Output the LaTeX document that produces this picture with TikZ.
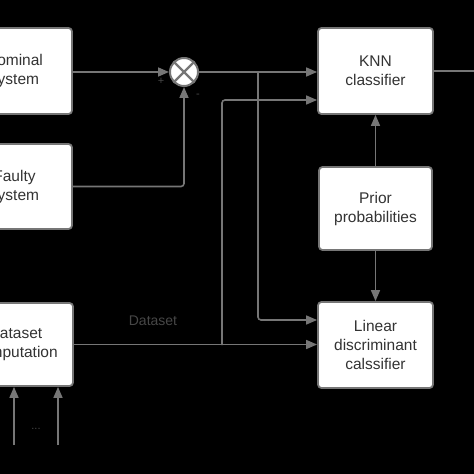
\documentclass[tikz,border=0pt]{standalone}
\usepackage{fontspec}
\setmainfont{Liberation Sans}
\usetikzlibrary{arrows.meta}
\definecolor{linegray}{HTML}{767676}
\definecolor{txtgray}{HTML}{333333}
\definecolor{lblgray}{HTML}{474747}
\begin{document}
\begin{tikzpicture}[x=1bp,y=-1bp,
  box/.style={draw=linegray, line width=1.8bp, fill=white, rounded corners=3.5bp,
    minimum width=115bp, minimum height=86bp, inner sep=0pt, align=center,
    text=txtgray, font=\fontsize{15.5bp}{19bp}\selectfont},
  conn/.style={draw=linegray, line width=1.6bp},
  arr/.style={conn, -{Triangle[length=11bp,width=9bp]}},
  sign/.style={text=lblgray, font=\fontsize{11bp}{12bp}\selectfont, inner sep=0pt}]
\useasboundingbox[fill=black] (0,0) rectangle (474,474);
\begin{scope}
\clip (0,0) rectangle (474,474);
\node[box] (nom) at (14.5,71) {Nominal\\system};
\node[box, minimum height=85bp] (faulty) at (14.5,186.5) {Faulty\\system};
\node[box, minimum height=83bp] (dc) at (15.5,344.5) {Dataset\\computation};
\node[box] (knn) at (375.5,71) {KNN\\classifier};
\node[box, minimum width=113bp, minimum height=83bp] (prior) at (375.5,208.5) {Prior\\probabilities};
\node[box] (ldc) at (375.5,345) {Linear\\discriminant\\calssifier};
\node[circle, draw=linegray, line width=2bp, fill=white, minimum size=28bp, inner sep=0pt] (mul) at (184,72) {};
\draw[conn, line width=2.2bp] (mul.45) -- (mul.225) (mul.135) -- (mul.315);

\coordinate (out) at (474,71);
\coordinate (j1) at (258,72);
\coordinate (j2) at (222,345);
\coordinate (in1) at (14,445);
\coordinate (in2) at (58,445);

\draw[arr] (nom.east |- mul.west) -- (mul.west);
\draw[arr, rounded corners=3bp] (faulty.east) -| (mul.south);
\draw[arr] (mul.east) -- (mul.east -| knn.west);
\draw[conn] (knn.east) -- (out);
\draw[arr, rounded corners=3bp] (j1) |- ([yshift=25bp]ldc.west);
\draw[arr] (dc.east) -- (dc.east -| ldc.west);
\draw[arr, rounded corners=3bp] (j2) |- ([yshift=-29bp]knn.west);
\draw[arr] (prior.north) -- (knn.south);
\draw[arr] (prior.south) -- (ldc.north);
\draw[arr] (in1) -- (in1 |- dc.south);
\draw[arr] (in2) -- (in2 |- dc.south);

\node[sign] (plus) at (161,81) {+};
\node[sign] (minus) at (198,96) {-};
\node[text=lblgray, font=\fontsize{11bp}{12bp}\selectfont, inner sep=0pt] (dots) at (36,429) {...};
\node[text=lblgray, font=\fontsize{14bp}{16bp}\selectfont, inner sep=0pt] (dslabel) at (153,321) {Dataset};
\end{scope}
\end{tikzpicture}
\end{document}
